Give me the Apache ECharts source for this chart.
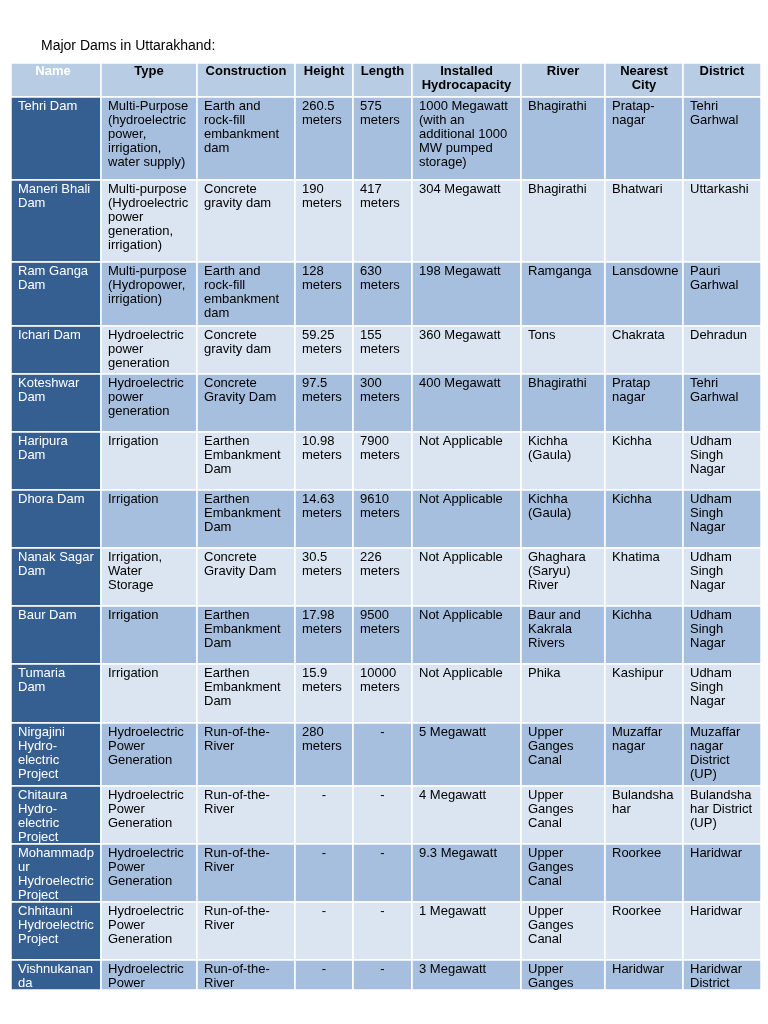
<!DOCTYPE html>
<html><head><meta charset="utf-8">
<script src="https://cdn.jsdelivr.net/npm/echarts@6/dist/echarts.min.js"></script>
<style>html,body{margin:0;padding:0;background:#fff}#c{width:768px;height:1024px}</style>
</head><body><div id="c"></div>
<script>
const title = "Major Dams in Uttarakhand:";
const headers = ["Name","Type","Construction","Height","Length","Installed\nHydrocapacity","River","Nearest\nCity","District"];
const names = ["Tehri Dam","Maneri Bhali\nDam","Ram Ganga\nDam","Ichari Dam","Koteshwar\nDam","Haripura\nDam","Dhora Dam","Nanak Sagar\nDam","Baur Dam","Tumaria\nDam","Nirgajini\nHydro-\nelectric\nProject","Chitaura\nHydro-\nelectric\nProject","Mohammadp\nur\nHydroelectric\nProject","Chhitauni\nHydroelectric\nProject","Vishnukanan\nda"];
const types = ["Multi-Purpose\n(hydroelectric\npower,\nirrigation,\nwater supply)","Multi-purpose\n(Hydroelectric\npower\ngeneration,\nirrigation)","Multi-purpose\n(Hydropower,\nirrigation)","Hydroelectric\npower\ngeneration","Hydroelectric\npower\ngeneration","Irrigation","Irrigation","Irrigation,\nWater\nStorage","Irrigation","Irrigation","Hydroelectric\nPower\nGeneration","Hydroelectric\nPower\nGeneration","Hydroelectric\nPower\nGeneration","Hydroelectric\nPower\nGeneration","Hydroelectric\nPower"];
const constructions = ["Earth and\nrock-fill\nembankment\ndam","Concrete\ngravity dam","Earth and\nrock-fill\nembankment\ndam","Concrete\ngravity dam","Concrete\nGravity Dam","Earthen\nEmbankment\nDam","Earthen\nEmbankment\nDam","Concrete\nGravity Dam","Earthen\nEmbankment\nDam","Earthen\nEmbankment\nDam","Run-of-the-\nRiver","Run-of-the-\nRiver","Run-of-the-\nRiver","Run-of-the-\nRiver","Run-of-the-\nRiver"];
const heights = ["260.5\nmeters","190\nmeters","128\nmeters","59.25\nmeters","97.5\nmeters","10.98\nmeters","14.63\nmeters","30.5\nmeters","17.98\nmeters","15.9\nmeters","280\nmeters","-","-","-","-"];
const lengths = ["575\nmeters","417\nmeters","630\nmeters","155\nmeters","300\nmeters","7900\nmeters","9610\nmeters","226\nmeters","9500\nmeters","10000\nmeters","-","-","-","-","-"];
const capacities = ["1000 Megawatt\n(with an\nadditional 1000\nMW pumped\nstorage)","304 Megawatt","198 Megawatt","360 Megawatt","400 Megawatt","Not Applicable","Not Applicable","Not Applicable","Not Applicable","Not Applicable","5 Megawatt","4 Megawatt","9.3 Megawatt","1 Megawatt","3 Megawatt"];
const rivers = ["Bhagirathi","Bhagirathi","Ramganga","Tons","Bhagirathi","Kichha\n(Gaula)","Kichha\n(Gaula)","Ghaghara\n(Saryu)\nRiver","Baur and\nKakrala\nRivers","Phika","Upper\nGanges\nCanal","Upper\nGanges\nCanal","Upper\nGanges\nCanal","Upper\nGanges\nCanal","Upper\nGanges"];
const cities = ["Pratap-\nnagar","Bhatwari","Lansdowne","Chakrata","Pratap\nnagar","Kichha","Kichha","Khatima","Kichha","Kashipur","Muzaffar\nnagar","Bulandsha\nhar","Roorkee","Roorkee","Haridwar"];
const districts = ["Tehri\nGarhwal","Uttarkashi","Pauri\nGarhwal","Dehradun","Tehri\nGarhwal","Udham\nSingh\nNagar","Udham\nSingh\nNagar","Udham\nSingh\nNagar","Udham\nSingh\nNagar","Udham\nSingh\nNagar","Muzaffar\nnagar\nDistrict\n(UP)","Bulandsha\nhar District\n(UP)","Haridwar","Haridwar","Haridwar\nDistrict"];

// layout (page pixels)
const colEdges = [11,101,197,295,353,412,521,605,683,761];
const rowEdges = [63,97,180,262,326,374,432,490,548,606,664,723,786,844,902,960,990];

const columns = [names,types,constructions,heights,lengths,capacities,rivers,cities,districts];
const cells = [];
for (let c = 0; c < headers.length; c++) cells.push([0, c, headers[c]]);
for (let r = 0; r < names.length; r++)
  for (let c = 0; c < columns.length; c++) cells.push([r + 1, c, columns[c][r]]);

function renderItem(params, api) {
  const r = api.value(0), c = api.value(1);
  const text = cells[params.dataIndex][2];
  const p0 = api.coord([colEdges[c], rowEdges[r]]);
  const p1 = api.coord([colEdges[c + 1], rowEdges[r + 1]]);
  let fill;
  if (r === 0) fill = '#b8cce4';
  else if (c === 0) fill = '#365f91';
  else fill = (r % 2 === 1) ? '#a7bfde' : '#dbe5f1';
  const header = r === 0;
  const white = c === 0;
  const centered = header || ((c === 3 || c === 4) && text === '-');
  const children = [{
    type: 'rect',
    shape: {x: p0[0], y: p0[1], width: p1[0] - p0[0], height: p1[1] - p0[1]},
    style: {fill: fill, stroke: '#ffffff', lineWidth: 1.5}
  }, {
    type: 'text',
    style: {
      text: text,
      x: centered ? (p0[0] + p1[0]) / 2 + (header && c===0 ? -3 : 0) : p0[0] + 7,
      y: p0[1] + (header ? 1 : 2),
      align: centered ? 'center' : 'left',
      verticalAlign: 'top',
      fill: white ? '#ffffff' : '#000000',
      font: (header ? 'bold ' : '') + '13px "Liberation Sans", Arial, sans-serif',
      lineHeight: 14
    }
  }];
  return {type: 'group', children: children};
}

const chart = echarts.init(document.getElementById('c'));
chart.setOption({
  animation: false,
  title: {text: title, left: 36, top: 34, textStyle: {fontSize: 14, fontWeight: 'normal', color: '#000', fontFamily: '"Liberation Sans", Arial, sans-serif'}},
  grid: {left: 0, right: 0, top: 0, bottom: 0},
  xAxis: {type: 'value', min: 0, max: 768, show: false},
  yAxis: {type: 'value', min: 0, max: 1024, inverse: true, show: false},
  series: [{type: 'custom', renderItem: renderItem, data: cells.map(d => [d[0], d[1]]), clip: false}]
});
</script></body></html>
